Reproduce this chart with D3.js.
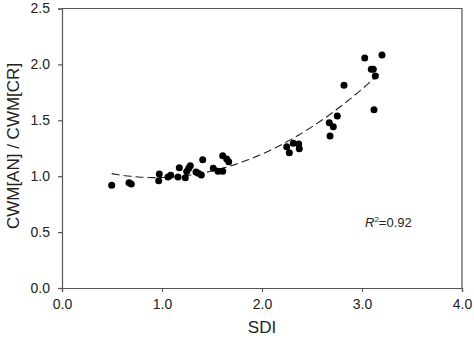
<!DOCTYPE html>
<html>
<head>
<meta charset="utf-8">
<script src="https://cdn.jsdelivr.net/npm/d3@7"></script>
<style>
  html, body { margin: 0; padding: 0; background: #fff; }
  svg { display: block; font-family: "Liberation Sans", Arial, sans-serif; }
</style>
</head>
<body>
<svg id="chart" width="474" height="346"></svg>
<script>
// ---- data ----
const sdi = [0.497, 0.670, 0.693, 0.967, 0.973, 1.060, 1.087, 1.160, 1.173, 1.233,
             1.247, 1.267, 1.283, 1.340, 1.363, 1.393, 1.407, 1.513, 1.560, 1.607,
             1.607, 1.647, 1.667, 2.247, 2.273, 2.313, 2.367, 2.373, 2.673, 2.680,
             2.713, 2.753, 2.820, 3.027, 3.093, 3.113, 3.133, 3.120, 3.200];
const ratio = [0.918, 0.942, 0.930, 0.960, 1.020, 0.993, 1.008, 0.993, 1.076, 0.987,
               1.041, 1.071, 1.094, 1.038, 1.026, 1.011, 1.148, 1.071, 1.044, 1.044,
               1.184, 1.154, 1.130, 1.264, 1.210, 1.294, 1.288, 1.246, 1.479, 1.360,
               1.443, 1.538, 1.813, 2.057, 1.956, 1.956, 1.896, 1.595, 2.084];
const xTicks = [0, 1, 2, 3, 4];
const yTicks = [0, 0.5, 1.0, 1.5, 2.0, 2.5];
const xTitle = "SDI";
const yTitle = "CWM[AN] / CWM[CR]";
const r2Value = "0.92";

(function () {
// ---- layout ----
const svg = d3.select("#chart");
const pL = 62, pR = 462, pT = 8.5, pB = 288;
const x = d3.scaleLinear().domain([0, 4]).range([pL, pR]);
const y = d3.scaleLinear().domain([0, 2.5]).range([pB, pT]);
const axisColor = "#555";

// frame (top & right)
svg.append("path")
  .attr("d", `M${pL},${pT}H${pR}V${pB}`)
  .attr("fill", "none").attr("stroke", axisColor).attr("stroke-width", 1.2);

// axes
const xAxis = svg.append("g").attr("transform", `translate(0,${pB})`)
  .call(d3.axisBottom(x).tickValues(xTicks).tickFormat(d3.format(".1f")).tickSize(4).tickPadding(7));
const yAxis = svg.append("g").attr("transform", `translate(${pL},0)`)
  .call(d3.axisLeft(y).tickValues(yTicks).tickFormat(d3.format(".1f")).tickSize(4).tickPadding(8));
[xAxis, yAxis].forEach(g => {
  g.select(".domain").attr("stroke", axisColor).attr("stroke-width", 1.2);
  g.selectAll(".tick line").attr("stroke", axisColor).attr("stroke-width", 1.2);
  g.selectAll(".tick text").attr("fill", "#222").style("font-size", "14px")
    .style("font-family", "'Liberation Sans', Arial, sans-serif");
});

// titles
svg.append("text").attr("x", (pL + pR) / 2).attr("y", 333)
  .attr("text-anchor", "middle").attr("fill", "#222").style("font-size", "17px").text(xTitle);
svg.append("text").attr("transform", `translate(19,146) rotate(-90)`)
  .attr("text-anchor", "middle").attr("fill", "#222").style("font-size", "17px").text(yTitle);

// quadratic least-squares fit computed from the data
function quadFit(xs, ys) {
  let S = Array.from({length: 5}, () => 0), T = [0, 0, 0];
  xs.forEach((xi, i) => {
    for (let k = 0; k < 5; k++) S[k] += Math.pow(xi, k);
    for (let k = 0; k < 3; k++) T[k] += ys[i] * Math.pow(xi, k);
  });
  const A = [[S[0], S[1], S[2], T[0]], [S[1], S[2], S[3], T[1]], [S[2], S[3], S[4], T[2]]];
  for (let i = 0; i < 3; i++) {
    for (let j = i + 1; j < 3; j++) {
      const f = A[j][i] / A[i][i];
      for (let k = i; k < 4; k++) A[j][k] -= f * A[i][k];
    }
  }
  const c = [0, 0, 0];
  for (let i = 2; i >= 0; i--) {
    let s = A[i][3];
    for (let k = i + 1; k < 3; k++) s -= A[i][k] * c[k];
    c[i] = s / A[i][i];
  }
  return c;
}
const coef = quadFit(sdi, ratio);
const [xmin, xmax] = d3.extent(sdi);
const fitPts = d3.range(0, 101).map(i => {
  const xv = xmin + (xmax - 0.03 - xmin) * i / 100;
  return [xv, coef[0] + coef[1] * xv + coef[2] * xv * xv];
});
svg.append("path").datum(fitPts)
  .attr("d", d3.line().x(d => x(d[0])).y(d => y(d[1])))
  .attr("fill", "none").attr("stroke", "#222").attr("stroke-width", 1.1)
  .attr("stroke-dasharray", "8,4");

// points
svg.append("g").selectAll("circle").data(sdi).join("circle")
  .attr("cx", d => x(d)).attr("cy", (d, i) => y(ratio[i])).attr("r", 3.5).attr("fill", "#000");

// R^2 annotation
const t = svg.append("text").attr("x", 365).attr("y", 227).attr("fill", "#222").style("font-size", "13px");
t.append("tspan").style("font-style", "italic").text("R");
t.append("tspan").attr("dy", -5).style("font-size", "8px").text("2");
t.append("tspan").attr("dy", 5).text("=" + r2Value);
})();
</script>
</body>
</html>
